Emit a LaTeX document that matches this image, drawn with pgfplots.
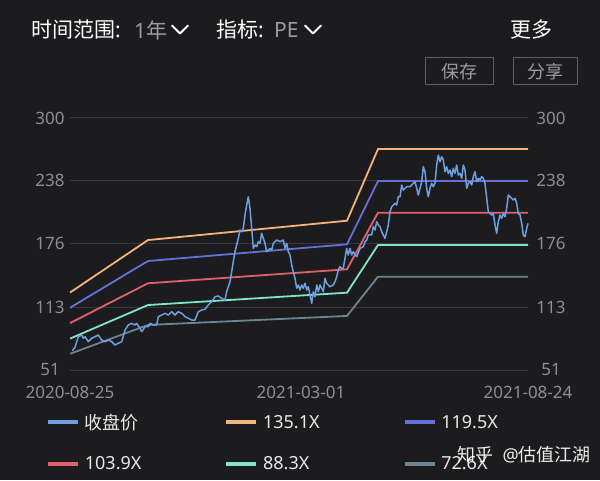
\documentclass[border=0pt]{standalone}
\usepackage{pgfplots}
\pgfplotsset{compat=1.18}
\usepackage{fontspec}
\setmainfont{Noto Sans}
\newfontfamily\cjk{Noto Sans CJK SC}
\definecolor{bg}{HTML}{1C1C1E}
\definecolor{gridc}{HTML}{38383A}
\definecolor{tickc}{HTML}{8E8E90}
\definecolor{cprice}{HTML}{6E9FE0}
\definecolor{corange}{HTML}{F2B47A}
\definecolor{cblue}{HTML}{6670DA}
\definecolor{cred}{HTML}{E0606E}
\definecolor{cgreen}{HTML}{7EE6C8}
\definecolor{cgray}{HTML}{6C8494}
\definecolor{ltext}{HTML}{E8E8E8}
\definecolor{btn}{HTML}{5E5E60}
\definecolor{btntext}{HTML}{9C9C9E}
\begin{document}
\begin{tikzpicture}[x=1pt,y=1pt]
\fill[bg] (0,0) rectangle (600,480);
% header
\node[anchor=west, text=white, inner sep=0pt, font=\fontsize{21}{24}\selectfont] at (31,450) {{\cjk 时间范围}:};
\node[anchor=west, text=btntext, inner sep=0pt, font=\fontsize{21}{24}\selectfont] at (134,450) {1{\cjk 年}};
\draw[white, line width=1.8pt, line cap=round, line join=round] (172,454.5) -- (180,446.5) -- (188,454.5);
\node[anchor=west, text=white, inner sep=0pt, font=\fontsize{21}{24}\selectfont] at (216,450) {{\cjk 指标}:};
\node[anchor=west, text=btntext, inner sep=0pt, font=\fontsize{21}{24}\selectfont] at (274,450) {PE};
\draw[white, line width=1.8pt, line cap=round, line join=round] (305,454.5) -- (313,446.5) -- (321,454.5);
\node[anchor=west, text=white, inner sep=0pt, font=\fontsize{21}{24}\selectfont] at (510,450) {\cjk 更多};
\draw[btn, line width=1pt] (425,395) rectangle (493,422);
\node[text=btntext, font=\fontsize{18}{20}\selectfont\cjk] at (459,408.5) {保存};
\draw[btn, line width=1pt] (513,395) rectangle (577,422);
\node[text=btntext, font=\fontsize{18}{20}\selectfont\cjk] at (545,408.5) {分享};

\begin{axis}[
  at={(70pt,110pt)}, anchor=south west, scale only axis,
  width=458pt, height=252pt,
  xmin=0, xmax=458, ymin=51, ymax=300,
  axis line style={draw=none}, major tick length=0pt,
  ytick={51,113,176,238,300}, ymajorgrids,
  grid style={gridc, line width=1pt},
  xtick={0,231,458}, xticklabels={2020-08-25,2021-03-01,2021-08-24},
  tick label style={text=tickc, font=\fontsize{17}{20}\selectfont},
  /pgf/number format/assume math mode=true,
  yticklabel style={anchor=center, xshift=-20pt},
  xticklabel style={anchor=center, yshift=-22pt},
  clip=false,
  legend columns=3,
  legend image code/.code={\draw[#1, line width=4pt] (0pt,0pt) -- (30pt,0pt);},
  legend style={at={(axis description cs:-0.0524,-0.166)}, anchor=north west,
    draw=none, fill=none, inner sep=0pt,
    text=ltext, font=\fontsize{18}{21}\selectfont,
    row sep=22pt,
    /tikz/every odd column/.append style={column sep=2.7pt},
    /tikz/every even column/.append style={column sep=79.5pt}},
  legend cell align=left,
]
\addlegendimage{cprice}\addlegendentry{\makebox[58pt][l]{\cjk 收盘价}}
\addlegendimage{corange}\addlegendentry{\makebox[58pt][l]{135.1X}}
\addlegendimage{cblue}\addlegendentry{\makebox[58pt][l]{119.5X}}
\addlegendimage{cred}\addlegendentry{\makebox[58pt][l]{103.9X}}
\addlegendimage{cgreen}\addlegendentry{\makebox[58pt][l]{88.3X}}
\addlegendimage{cgray}\addlegendentry{\makebox[58pt][l]{72.6X}}

\addplot[forget plot, corange, line width=1.8pt] coordinates {(0,127.5)(78,179.4)(277,198.5)(308,269.3)(458,269.3)};
\addplot[forget plot, cblue, line width=1.8pt] coordinates {(0,112.5)(78,158.7)(277,175.2)(308,237.7)(458,237.7)};
\addplot[forget plot, cred, line width=1.8pt] coordinates {(0,97.3)(78,136.7)(277,150.5)(308,206.4)(458,206.4)};
\addplot[forget plot, cgreen, line width=1.8pt] coordinates {(0,82)(78,115.2)(277,127.4)(308,174.5)(458,174.5)};
\addplot[forget plot, cgray, line width=1.8pt] coordinates {(0,67)(78,95.5)(277,104.4)(308,143.2)(458,143.2)};

\addplot[forget plot, cprice, line width=1.5pt, line join=round] coordinates {
(2.3,70.1)(5,73.4)(8.3,83.9)(11.7,85.6)(13.3,82.3)(15,83.9)(18.3,79.0)(21.7,82.3)(25,83.9)(28.3,85.6)(31.7,80.6)(35,79.0)(38.3,80.6)(41.7,79.0)(45,75.7)(48.3,77.4)(51.7,79.0)(55,90.5)(58.3,95.5)(61.7,97.1)(65,95.5)(66.7,97.1)(70,92.2)(71.7,88.8)(75,93.8)(78.3,93.8)(80,97.1)(83.3,95.5)(86.7,95.5)(88.3,103.7)(91.7,105.3)(95,107.0)(98.3,105.3)(101.7,108.6)(105,105.3)(108.3,108.6)(111.7,107.0)(115,103.7)(118.3,102.1)(121.7,100.4)(125,100.4)(128.3,108.6)(131.7,110.3)(135,111.0)(138.3,115.2)(141.7,118.5)(145,123.4)(148.3,124.1)(151.7,121.8)
(155,120.2)(156.7,128.4)(160,138.2)(161.7,148.1)(163.3,158.0)(165,167.9)(166.7,174.5)(168.3,181.1)(170,189.3)(171.7,187.6)(173.3,191.0)(175,204.1)(176.7,214.0)(178.3,222.2)(180,210.8)(181.7,191.0)(183.3,171.2)(185,174.5)(186.7,172.8)(188.3,177.8)(190,176.2)(191.7,186.1)(193.3,181.1)(195,176.2)(196.7,167.9)(200,171.2)(201.7,169.6)(203.3,176.2)(206.7,179.4)(210,177.8)(213.3,179.4)(215,171.2)(216.7,176.2)(218.3,167.9)(220,164.6)(221.7,154.7)(223.3,148.1)(225,141.6)(226.7,131.7)(228.3,135.0)(230,130.0)(231.7,135.0)(233.3,131.7)(235,136.7)(236.7,130.0)(238.3,133.3)(240,125.1)(241.7,116.9)(243.3,128.4)(245,123.4)(246.7,135.0)(248.3,128.4)(250,135.0)(251.7,131.7)(253.3,128.4)(255,141.6)(256.7,136.7)(258.3,135.0)(260,133.3)(263.3,135.0)(265,138.2)(266.7,143.2)(268.3,149.8)(270,153.1)(271.7,151.5)(273.3,151.5)(275,161.4)(276.7,171.2)(278.3,164.6)(280,171.2)(281.7,164.6)(283.3,167.9)(286.7,162.9)
(290,171.2)(293.3,172.8)(295,177.8)(296.7,179.4)(298.3,184.4)(301.7,184.4)(303.3,192.6)(305,189.3)(306.7,197.5)(308.3,194.3)(310,192.6)(311.7,187.6)(313.3,184.4)(315,181.1)(316.7,187.6)(318.3,194.3)(320,207.4)(321.7,212.3)(325,215.7)(326.7,214.0)(328.3,222.2)(330,222.2)(331.7,233.8)(333.3,228.8)(336.7,232.1)(340,232.1)(341.7,233.8)(343.3,235.5)(345,237.0)(346.7,230.5)(348.3,223.9)(350,230.5)(351.7,237.0)(353.3,251.9)(355,246.9)(356.7,230.5)(358.3,222.2)(360,230.5)(361.7,235.5)(363.3,232.1)(365,235.5)(366.7,253.5)(368.3,263.4)(370,256.8)(371.7,261.7)(373.3,258.5)(375,246.9)(376.7,251.9)(378.3,245.3)(380,248.6)(381.7,242.0)(383.3,250.3)(385,245.3)(386.7,253.5)(388.3,243.7)(390,245.3)(391.7,240.4)(393.3,253.5)(395,248.6)(396.7,230.5)(398.3,235.5)(400,237.0)(401.7,233.8)(403.3,242.0)(405,246.9)(406.7,237.0)(408.3,240.4)(410,238.7)(411.7,242.0)(413.3,240.4)(415,235.5)(416.7,220.6)(418.3,207.4)(420,205.8)(421.7,204.1)(423.3,205.8)(425,194.3)(426.7,186.1)(428.3,197.5)(430,204.1)(431.7,200.9)(433.3,205.8)(435,202.5)(436.7,210.8)(438.3,223.9)(440,222.2)(441.7,220.6)(443.3,219.0)(445,220.6)(446.7,215.7)(448.3,205.8)(450,204.1)(451.7,195.9)(453.3,184.4)(455,182.7)(456.7,191.0)(458,195.9)
};
\end{axis}

\begin{axis}[
  at={(70pt,110pt)}, anchor=south west, scale only axis,
  width=458pt, height=252pt,
  xmin=0, xmax=458, ymin=51, ymax=300,
  axis line style={draw=none}, major tick length=0pt,
  ytick={51,113,176,238,300}, xtick=\empty,
  yticklabel pos=right,
  tick label style={text=tickc, font=\fontsize{17}{20}\selectfont},
  /pgf/number format/assume math mode=true,
  yticklabel style={anchor=center, xshift=23pt},
]
\end{axis}

\node[anchor=west, text=white, opacity=0.92, inner sep=0pt, font=\fontsize{18}{21}\selectfont] at (457,25) {{\cjk 知乎}\ \ @{\cjk 估值江湖}};
\end{tikzpicture}
\end{document}
